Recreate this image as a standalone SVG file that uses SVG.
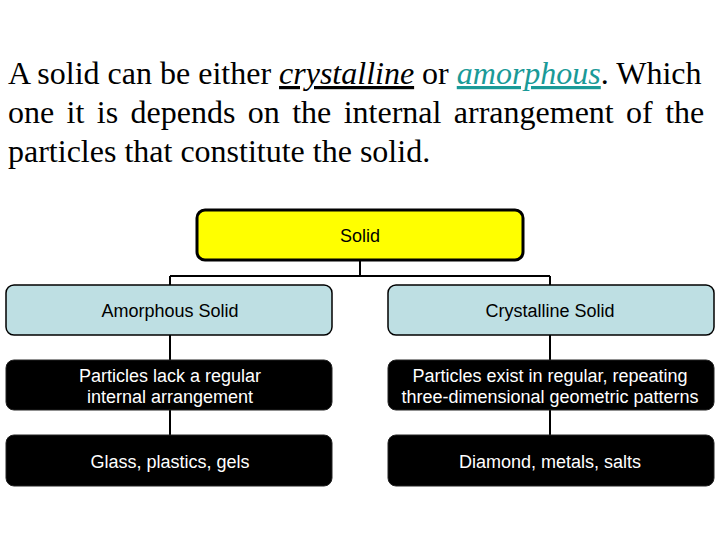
<svg xmlns="http://www.w3.org/2000/svg" width="720" height="540" viewBox="0 0 720 540">
<style>
.title{font-family:"Liberation Serif","Times New Roman",serif;font-size:32px;fill:#000}
.lbl{font-family:"Liberation Sans",Arial,sans-serif;font-size:18px;text-anchor:middle}
.blue{fill:#bedfe3;stroke:#000;stroke-width:1.5}
.dark{fill:#000;stroke:#222;stroke-width:1}
.conn{stroke:#000;stroke-width:2;fill:none}
</style>
<rect width="720" height="540" fill="#fff"/>
<g id="title">
<text class="title" x="8" y="84">A solid can be either <tspan font-style="italic" text-decoration="underline">crystalline</tspan> or <tspan font-style="italic" fill="#1a9a98" text-decoration="underline">amorphous</tspan>. Which</text>
<text class="title" x="8" y="123" word-spacing="4.4">one it is depends on the internal arrangement of the</text>
<text class="title" x="8" y="162">particles that constitute the solid.</text>
</g>
<g id="connectors">
<path class="conn" d="M360 260V276M170 276H550M170 276V285M550 276V285M170 335V360M550 335V360M170 410V435M550 410V435"/>
</g>
<g id="solid">
<rect x="197" y="210" width="326" height="50" rx="8" fill="#ffff00" stroke="#000" stroke-width="3"/>
<text class="lbl" x="360" y="242" fill="#000">Solid</text>
</g>
<g id="amorphous">
<rect class="blue" x="6" y="285" width="326" height="50" rx="8"/>
<text class="lbl" x="170" y="317" fill="#000">Amorphous Solid</text>
</g>
<g id="crystalline">
<rect class="blue" x="388" y="285" width="326" height="50" rx="8"/>
<text class="lbl" x="550" y="317" fill="#000">Crystalline Solid</text>
</g>
<g id="amorphous-desc">
<rect class="dark" x="6" y="360" width="326" height="50" rx="8"/>
<text class="lbl" x="170" y="382" fill="#fff">Particles lack a regular</text>
<text class="lbl" x="170" y="403" fill="#fff">internal arrangement</text>
</g>
<g id="crystalline-desc">
<rect class="dark" x="388" y="360" width="326" height="50" rx="8"/>
<text class="lbl" x="550" y="382" fill="#fff">Particles exist in regular, repeating</text>
<text class="lbl" x="550" y="403" fill="#fff">three-dimensional geometric patterns</text>
</g>
<g id="amorphous-ex">
<rect class="dark" x="6" y="435" width="326" height="51" rx="8"/>
<text class="lbl" x="170" y="468" fill="#fff">Glass, plastics, gels</text>
</g>
<g id="crystalline-ex">
<rect class="dark" x="388" y="435" width="326" height="51" rx="8"/>
<text class="lbl" x="550" y="468" fill="#fff">Diamond, metals, salts</text>
</g>
</svg>
